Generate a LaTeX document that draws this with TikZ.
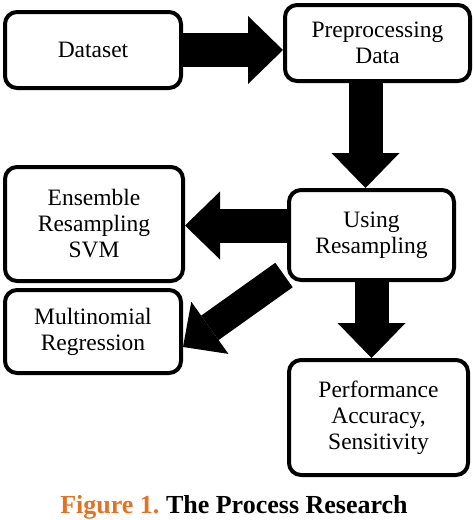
\documentclass[tikz,border=0pt]{standalone}
\usepackage{fontspec}
\setmainfont{Liberation Serif}
\usetikzlibrary{arrows.meta}
\definecolor{FigOrange}{RGB}{224,116,36}

\begin{document}
\begin{tikzpicture}[x=1pt, y=-1pt]
\useasboundingbox (0,0) rectangle (474,520);

\coordinate (B_data) at (93, 50);
\coordinate (B_prep) at (377.5, 43);
\coordinate (B_ens) at (94, 224);
\coordinate (B_using) at (371.5, 235);
\coordinate (B_multi) at (93, 331.5);
\coordinate (B_perf) at (378.5, 417.5);


\tikzset{BoxStyle/.style = {
 draw = black,
 line width = 4pt,
 rounded corners = 12pt,
 align = center,
 inner sep = 0pt,
 font = \fontsize{23.5}{26}\selectfont} }

\node[BoxStyle, minimum width=176pt, minimum height=76pt] (data) at (B_data) {Dataset};
\node[BoxStyle, minimum width=185pt, minimum height=76pt] (prep) at (B_prep) {Preprocessing\\Data};
\node[BoxStyle, minimum width=178pt, minimum height=114pt] (ens) at (B_ens) {Ensemble\\Resampling\\SVM};
\node[BoxStyle, minimum width=165pt, minimum height=90pt] (using) at (B_using) {Using\\Resampling};
\node[BoxStyle, minimum width=176pt, minimum height=83pt] (multi) at (B_multi) {Multinomial\\Regression};
\node[BoxStyle, minimum width=179pt, minimum height=115pt] (perf) at (B_perf) {Performance\\Accuracy,\\Sensitivity};


\coordinate (P_out) at ([xshift=-12pt]prep.south);
\coordinate (U_left) at ([yshift=9.5pt]using.west);
\coordinate (U_corner) at ([shift={(-3pt,7pt)}]using.south west);
\coordinate (M_in) at ([yshift=-15.5pt]multi.east);

\tikzset{ArrowStyle/.style = {
 line width = 34pt,
 -{Triangle[length=35pt, width=68pt, line width=0pt]}} }

\draw[ArrowStyle] (data.east) -- (data.east -| prep.west);
\draw[ArrowStyle] (P_out) -- (P_out |- using.north);
\draw[ArrowStyle] (U_left) -- (U_left -| ens.east);
\draw[ArrowStyle, line width=30pt, -{Triangle[length=33pt, width=64pt, line width=0pt]}] (U_corner) -- (M_in);
\draw[ArrowStyle] (using.south) -- (using.south |- perf.north);


\node[anchor=base, font=\fontsize{26}{30}\selectfont\bfseries] (caption) at (234, 513)
 {\frenchspacing\textcolor{FigOrange}{Figure 1.} The Process Research};

\end{tikzpicture}
\end{document}
